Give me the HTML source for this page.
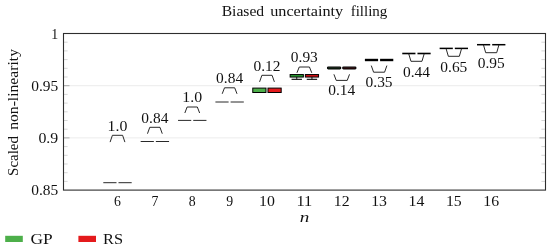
<!DOCTYPE html><html><head><meta charset="utf-8"><title>Biased uncertainty filling</title>
<style>html,body{margin:0;padding:0;background:#fff;}svg{display:block;}text{font-family:"Liberation Serif",serif;font-size:14.4px;fill:#111;}.d{font-size:13.8px;}</style></head><body>
<svg width="550" height="250" viewBox="0 0 550 250">
<rect width="550" height="250" fill="#fff"/>
<line x1="63.5" x2="545.5" y1="85.70" y2="85.70" stroke="#dedede" stroke-width="0.6"/>
<line x1="63.5" x2="545.5" y1="137.90" y2="137.90" stroke="#dedede" stroke-width="0.6"/>
<line x1="63.5" x2="67.6" y1="42.20" y2="42.20" stroke="#bbb" stroke-width="0.6"/>
<line x1="545.5" x2="541.4" y1="42.20" y2="42.20" stroke="#bbb" stroke-width="0.6"/>
<line x1="63.5" x2="67.6" y1="50.90" y2="50.90" stroke="#bbb" stroke-width="0.6"/>
<line x1="545.5" x2="541.4" y1="50.90" y2="50.90" stroke="#bbb" stroke-width="0.6"/>
<line x1="63.5" x2="67.6" y1="59.60" y2="59.60" stroke="#bbb" stroke-width="0.6"/>
<line x1="545.5" x2="541.4" y1="59.60" y2="59.60" stroke="#bbb" stroke-width="0.6"/>
<line x1="63.5" x2="67.6" y1="68.30" y2="68.30" stroke="#bbb" stroke-width="0.6"/>
<line x1="545.5" x2="541.4" y1="68.30" y2="68.30" stroke="#bbb" stroke-width="0.6"/>
<line x1="63.5" x2="67.6" y1="77.00" y2="77.00" stroke="#bbb" stroke-width="0.6"/>
<line x1="545.5" x2="541.4" y1="77.00" y2="77.00" stroke="#bbb" stroke-width="0.6"/>
<line x1="63.5" x2="69.5" y1="85.70" y2="85.70" stroke="#777" stroke-width="0.6"/>
<line x1="545.5" x2="539.5" y1="85.70" y2="85.70" stroke="#777" stroke-width="0.6"/>
<line x1="63.5" x2="67.6" y1="94.40" y2="94.40" stroke="#bbb" stroke-width="0.6"/>
<line x1="545.5" x2="541.4" y1="94.40" y2="94.40" stroke="#bbb" stroke-width="0.6"/>
<line x1="63.5" x2="67.6" y1="103.10" y2="103.10" stroke="#bbb" stroke-width="0.6"/>
<line x1="545.5" x2="541.4" y1="103.10" y2="103.10" stroke="#bbb" stroke-width="0.6"/>
<line x1="63.5" x2="67.6" y1="111.80" y2="111.80" stroke="#bbb" stroke-width="0.6"/>
<line x1="545.5" x2="541.4" y1="111.80" y2="111.80" stroke="#bbb" stroke-width="0.6"/>
<line x1="63.5" x2="67.6" y1="120.50" y2="120.50" stroke="#bbb" stroke-width="0.6"/>
<line x1="545.5" x2="541.4" y1="120.50" y2="120.50" stroke="#bbb" stroke-width="0.6"/>
<line x1="63.5" x2="67.6" y1="129.20" y2="129.20" stroke="#bbb" stroke-width="0.6"/>
<line x1="545.5" x2="541.4" y1="129.20" y2="129.20" stroke="#bbb" stroke-width="0.6"/>
<line x1="63.5" x2="69.5" y1="137.90" y2="137.90" stroke="#777" stroke-width="0.6"/>
<line x1="545.5" x2="539.5" y1="137.90" y2="137.90" stroke="#777" stroke-width="0.6"/>
<line x1="63.5" x2="67.6" y1="146.60" y2="146.60" stroke="#bbb" stroke-width="0.6"/>
<line x1="545.5" x2="541.4" y1="146.60" y2="146.60" stroke="#bbb" stroke-width="0.6"/>
<line x1="63.5" x2="67.6" y1="155.30" y2="155.30" stroke="#bbb" stroke-width="0.6"/>
<line x1="545.5" x2="541.4" y1="155.30" y2="155.30" stroke="#bbb" stroke-width="0.6"/>
<line x1="63.5" x2="67.6" y1="164.00" y2="164.00" stroke="#bbb" stroke-width="0.6"/>
<line x1="545.5" x2="541.4" y1="164.00" y2="164.00" stroke="#bbb" stroke-width="0.6"/>
<line x1="63.5" x2="67.6" y1="172.70" y2="172.70" stroke="#bbb" stroke-width="0.6"/>
<line x1="545.5" x2="541.4" y1="172.70" y2="172.70" stroke="#bbb" stroke-width="0.6"/>
<line x1="63.5" x2="67.6" y1="181.40" y2="181.40" stroke="#bbb" stroke-width="0.6"/>
<line x1="545.5" x2="541.4" y1="181.40" y2="181.40" stroke="#bbb" stroke-width="0.6"/>
<rect x="63.5" y="33.5" width="482.0" height="156.60" fill="none" stroke="#2e2e2e" stroke-width="1.1"/>
<text id="title" y="16.2"><tspan x="221.7" textLength="42.5" lengthAdjust="spacingAndGlyphs">Biased</tspan> <tspan x="270.2" textLength="73.0" lengthAdjust="spacingAndGlyphs">uncertainty</tspan> <tspan x="350.7" textLength="36.7" lengthAdjust="spacingAndGlyphs">filling</tspan></text>
<text x="58.2" y="38.60" text-anchor="end" class="d" >1</text>
<text x="58.2" y="90.80" text-anchor="end" class="d" textLength="27.0" lengthAdjust="spacingAndGlyphs">0.95</text>
<text x="58.2" y="143.00" text-anchor="end" class="d" textLength="19.8" lengthAdjust="spacingAndGlyphs">0.9</text>
<text x="58.2" y="195.20" text-anchor="end" class="d" textLength="27.0" lengthAdjust="spacingAndGlyphs">0.85</text>
<text id="ylab" transform="translate(18.4,175.9) rotate(-90)" y="0"><tspan x="0" textLength="39.8" lengthAdjust="spacingAndGlyphs">Scaled</tspan> <tspan x="46.1" textLength="80.8" lengthAdjust="spacingAndGlyphs">non-linearity</tspan></text>
<text x="117.50" y="205.5" text-anchor="middle" class="d" >6</text>
<text x="154.87" y="205.5" text-anchor="middle" class="d" >7</text>
<text x="192.24" y="205.5" text-anchor="middle" class="d" >8</text>
<text x="229.61" y="205.5" text-anchor="middle" class="d" >9</text>
<text x="266.98" y="205.5" text-anchor="middle" class="d" textLength="15.8" lengthAdjust="spacingAndGlyphs">10</text>
<text x="304.35" y="205.5" text-anchor="middle" class="d" textLength="15.8" lengthAdjust="spacingAndGlyphs">11</text>
<text x="341.72" y="205.5" text-anchor="middle" class="d" textLength="15.8" lengthAdjust="spacingAndGlyphs">12</text>
<text x="379.09" y="205.5" text-anchor="middle" class="d" textLength="15.8" lengthAdjust="spacingAndGlyphs">13</text>
<text x="416.46" y="205.5" text-anchor="middle" class="d" textLength="15.8" lengthAdjust="spacingAndGlyphs">14</text>
<text x="453.83" y="205.5" text-anchor="middle" class="d" textLength="15.8" lengthAdjust="spacingAndGlyphs">15</text>
<text x="491.20" y="205.5" text-anchor="middle" class="d" textLength="15.8" lengthAdjust="spacingAndGlyphs">16</text>
<text x="304.5" y="221.5" text-anchor="middle" font-style="italic" textLength="9.6" lengthAdjust="spacingAndGlyphs">n</text>
<line x1="103.30" x2="116.50" y1="182.7" y2="182.7" stroke="#111" stroke-width="0.9"/>
<line x1="118.50" x2="131.70" y1="182.7" y2="182.7" stroke="#111" stroke-width="0.9"/>
<line x1="140.67" x2="153.87" y1="141.5" y2="141.5" stroke="#111" stroke-width="0.9"/>
<line x1="155.87" x2="169.07" y1="141.5" y2="141.5" stroke="#111" stroke-width="0.9"/>
<line x1="178.04" x2="191.24" y1="120.4" y2="120.4" stroke="#111" stroke-width="0.9"/>
<line x1="193.24" x2="206.44" y1="120.4" y2="120.4" stroke="#111" stroke-width="0.9"/>
<line x1="215.41" x2="228.61" y1="102.0" y2="102.0" stroke="#111" stroke-width="0.9"/>
<line x1="230.61" x2="243.81" y1="102.0" y2="102.0" stroke="#111" stroke-width="0.9"/>
<rect x="252.78" y="88.1" width="13.20" height="4.4" fill="#4daf4a" stroke="#000" stroke-width="1.0"/>
<rect x="267.98" y="88.1" width="13.20" height="4.4" fill="#e41a1c" stroke="#000" stroke-width="1.0"/>
<line x1="296.75" x2="296.75" y1="76.8" y2="79.3" stroke="#000" stroke-width="0.9"/>
<line x1="291.55" x2="301.95" y1="79.3" y2="79.3" stroke="#000" stroke-width="1.1"/>
<rect x="290.15" y="74.55" width="13.20" height="2.5" fill="#2a9a32" stroke="#000" stroke-width="1.0"/>
<line x1="311.95" x2="311.95" y1="76.8" y2="79.3" stroke="#000" stroke-width="0.9"/>
<line x1="306.75" x2="317.15" y1="79.3" y2="79.3" stroke="#000" stroke-width="1.1"/>
<rect x="305.35" y="74.55" width="13.20" height="2.5" fill="#d41216" stroke="#000" stroke-width="1.0"/>
<rect x="327.52" y="67.2" width="13.20" height="1.7" rx="0.8" fill="#245c2a" stroke="#000" stroke-width="1.2"/>
<rect x="342.72" y="67.2" width="13.20" height="1.7" rx="0.8" fill="#7c1418" stroke="#000" stroke-width="1.2"/>
<line x1="364.89" x2="378.09" y1="60.0" y2="60.0" stroke="#000" stroke-width="2.4"/>
<line x1="380.09" x2="393.29" y1="60.0" y2="60.0" stroke="#000" stroke-width="2.4"/>
<line x1="402.26" x2="415.46" y1="53.5" y2="53.5" stroke="#000" stroke-width="1.6"/>
<line x1="417.46" x2="430.66" y1="53.5" y2="53.5" stroke="#000" stroke-width="1.6"/>
<line x1="439.63" x2="452.83" y1="48.4" y2="48.4" stroke="#000" stroke-width="1.5"/>
<line x1="454.83" x2="468.03" y1="48.4" y2="48.4" stroke="#000" stroke-width="1.5"/>
<line x1="477.00" x2="490.20" y1="44.7" y2="44.7" stroke="#000" stroke-width="1.5"/>
<line x1="492.20" x2="505.40" y1="44.7" y2="44.7" stroke="#000" stroke-width="1.5"/>
<path d="M110.10,142.1 L112.40,135.3 L122.60,135.3 L124.90,142.1" fill="none" stroke="#111" stroke-width="0.9" stroke-linejoin="miter"/>
<text x="117.50" y="131.1" text-anchor="middle" class="d" textLength="19.8" lengthAdjust="spacingAndGlyphs">1.0</text>
<path d="M147.47,133.7 L149.77,127.3 L159.97,127.3 L162.27,133.7" fill="none" stroke="#111" stroke-width="0.9" stroke-linejoin="miter"/>
<text x="154.87" y="122.6" text-anchor="middle" class="d" textLength="27.0" lengthAdjust="spacingAndGlyphs">0.84</text>
<path d="M184.84,113.0 L187.14,107.0 L197.34,107.0 L199.64,113.0" fill="none" stroke="#111" stroke-width="0.9" stroke-linejoin="miter"/>
<text x="192.24" y="101.6" text-anchor="middle" class="d" textLength="19.8" lengthAdjust="spacingAndGlyphs">1.0</text>
<path d="M222.21,93.8 L224.51,87.8 L234.71,87.8 L237.01,93.8" fill="none" stroke="#111" stroke-width="0.9" stroke-linejoin="miter"/>
<text x="229.61" y="82.8" text-anchor="middle" class="d" textLength="27.0" lengthAdjust="spacingAndGlyphs">0.84</text>
<path d="M259.58,81.9 L261.88,75.3 L272.08,75.3 L274.38,81.9" fill="none" stroke="#111" stroke-width="0.9" stroke-linejoin="miter"/>
<text x="266.98" y="70.5" text-anchor="middle" class="d" textLength="27.0" lengthAdjust="spacingAndGlyphs">0.12</text>
<path d="M296.95,72.8 L299.25,67.0 L309.45,67.0 L311.75,72.8" fill="none" stroke="#111" stroke-width="0.9" stroke-linejoin="miter"/>
<text x="304.35" y="61.6" text-anchor="middle" class="d" textLength="27.0" lengthAdjust="spacingAndGlyphs">0.93</text>
<path d="M333.92,74.3 L336.22,80.4 L347.22,80.4 L349.52,74.3" fill="none" stroke="#111" stroke-width="0.9" stroke-linejoin="miter"/>
<text x="341.72" y="95.4" text-anchor="middle" class="d" textLength="27.0" lengthAdjust="spacingAndGlyphs">0.14</text>
<path d="M371.29,65.6 L373.59,72.2 L384.59,72.2 L386.89,65.6" fill="none" stroke="#111" stroke-width="0.9" stroke-linejoin="miter"/>
<text x="379.09" y="87.3" text-anchor="middle" class="d" textLength="27.0" lengthAdjust="spacingAndGlyphs">0.35</text>
<path d="M408.66,53.6 L410.96,61.3 L421.96,61.3 L424.26,53.6" fill="none" stroke="#111" stroke-width="0.9" stroke-linejoin="miter"/>
<text x="416.46" y="77.0" text-anchor="middle" class="d" textLength="27.0" lengthAdjust="spacingAndGlyphs">0.44</text>
<path d="M446.03,48.4 L448.33,56.3 L459.33,56.3 L461.63,48.4" fill="none" stroke="#111" stroke-width="0.9" stroke-linejoin="miter"/>
<text x="453.83" y="71.9" text-anchor="middle" class="d" textLength="27.0" lengthAdjust="spacingAndGlyphs">0.65</text>
<path d="M483.40,44.6 L485.70,52.7 L496.70,52.7 L499.00,44.6" fill="none" stroke="#111" stroke-width="0.9" stroke-linejoin="miter"/>
<text x="491.20" y="68.0" text-anchor="middle" class="d" textLength="27.0" lengthAdjust="spacingAndGlyphs">0.95</text>
<rect x="5.2" y="235.8" width="17.6" height="6.2" fill="#4daf4a"/>
<text x="30.4" y="243.9" textLength="22.2" lengthAdjust="spacingAndGlyphs">GP</text>
<rect x="78.4" y="235.8" width="17.6" height="6.2" fill="#e41a1c"/>
<text x="103" y="243.9" textLength="20" lengthAdjust="spacingAndGlyphs">RS</text>
</svg></body></html>
